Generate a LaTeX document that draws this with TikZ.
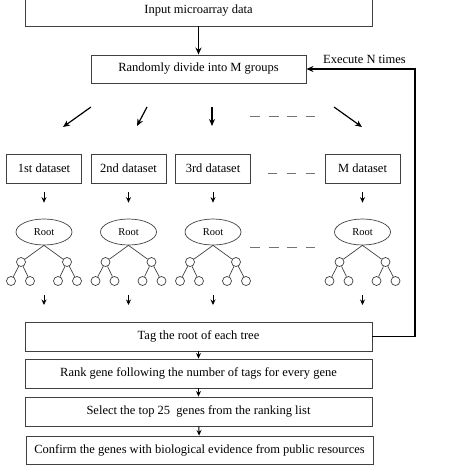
\documentclass[tikz,border=0pt]{standalone}
\usepackage{fontspec}
\setmainfont{Liberation Serif}
\usetikzlibrary{shapes.geometric, arrows.meta}
\begin{document}
\begin{tikzpicture}[x=1pt, y=-1pt,
    stepbox/.style={draw=black!75, line width=0.9pt, minimum height=29pt, inner sep=0pt, font=\fontsize{12.5}{14}\selectfont},
    arr/.style={black, line width=1.2pt, ->, >={Stealth[length=7pt, width=6pt]}},
    tick/.style={black, line width=1pt, ->, >={Stealth[length=5.5pt, width=5pt]}},
    gap/.style={black!55, line width=0.9pt, dash pattern=on 10pt off 8.5pt},
    rootnode/.style={draw=black!75, ellipse, line width=0.7pt, minimum width=56pt, minimum height=26pt, inner sep=0pt, font=\fontsize{10.5}{12}\selectfont},
    leaf/.style={draw=black!75, circle, line width=0.7pt, minimum size=9pt, inner sep=0pt},
    branch/.style={black!75, line width=0.7pt}]
  \useasboundingbox (0,0) rectangle (474,474);
  \clip (0,0) rectangle (474,474);
		% top of the flow
		\node [stepbox, minimum width=347pt, minimum height=30pt] (input) at (198.5,11) {Input microarray data};
		\node [stepbox, minimum width=215pt, minimum height=28pt] (divide) at (198.5,69) {Randomly divide into M groups};
		\node [font=\fontsize{12.5}{14}\selectfont] (exec) at (364.5,59) {Execute N times};
		\draw [arr] (input) -- (divide);
		% split arrows
		\foreach \a/\b/\c/\d in {91/107/63/127, 147/107/137/126, 212/107/212/126, 334/107/362/127}
			\draw [arr] (\a,\b) -- (\c,\d);
		\draw [gap] (250,116) -- (315,116);
		% datasets and trees
		\foreach \x/\n/\t in {44/1/1st dataset, 128.5/2/2nd dataset, 213/3/3rd dataset, 362.5/4/M dataset} {
			\node [stepbox, minimum width=75pt] (d\n) at (\x,168.5) {\t};
			\node [rootnode] (r\n) at (\x,232) {Root};
			\node [leaf] (a\n) at (\x-23,262) {};
			\node [leaf] (b\n) at (\x+23,262) {};
			\node [leaf] (a\n1) at (\x-33,281) {};
			\node [leaf] (a\n2) at (\x-14,281) {};
			\node [leaf] (b\n1) at (\x+14,281) {};
			\node [leaf] (b\n2) at (\x+33,281) {};
			\draw [tick, shorten <=9pt, shorten >=16pt] (d\n) -- (r\n);
			\draw [branch] (a\n) -- (r\n.south) -- (b\n);
			\draw [branch] (a\n1) -- (a\n) -- (a\n2);
			\draw [branch] (b\n1) -- (b\n) -- (b\n2);
			\draw [tick] (\x,295) -- (\x,305);
		}
		\draw [gap, dash pattern=on 8.5pt off 10.5pt] (268,173) -- (315,173);
		\draw [gap] (250,247) -- (315,247);
		% bottom of the flow
		\node [stepbox, minimum width=347pt] (tag) at (198.5,336.5) {Tag the root of each tree};
		\node [stepbox, minimum width=347pt] (rank) at (198.5,373.5) {Rank gene following the number of tags for every gene};
		\node [stepbox, minimum width=347pt] (select) at (198.5,411.5) {Select the top 25 \ genes from the ranking list};
		\node [stepbox, minimum width=347pt, minimum height=28pt] (confirm) at (199.5,450) {Confirm the genes with biological evidence from public resources};
		\draw [tick] (tag) -- (rank);
		\draw [tick] (rank) -- (select);
		\draw [tick] (select) -- (confirm);
		% loop back
		\coordinate (back) at (415,336.5);
		\draw [arr, line width=1.5pt] (tag.east) -- (back) |- (divide.east);
	\end{tikzpicture}
\end{document}
